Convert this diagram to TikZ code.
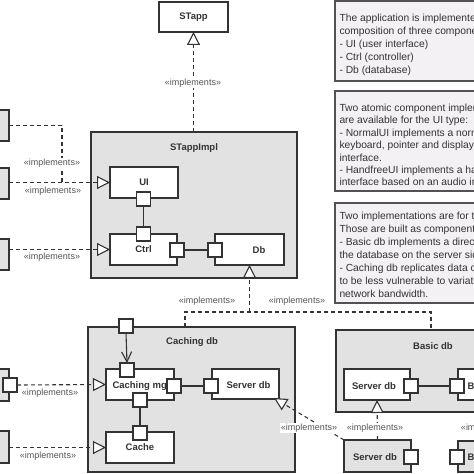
\documentclass[tikz,border=0pt]{standalone}
\usepackage{fontspec}
\setmainfont{Liberation Sans}
\usetikzlibrary{arrows.meta}
\definecolor{boxgray}{HTML}{E2E2E2}
\definecolor{linec}{HTML}{333333}
\definecolor{notefill}{HTML}{F4F1F4}
\definecolor{labc}{HTML}{555555}
\begin{document}
\begin{tikzpicture}[x=1bp,y=-1bp,
  every node/.style={inner sep=0pt, outer sep=0pt},
  box/.style={draw=linec, line width=1.1bp, rectangle, font=\fontsize{9.5bp}{11bp}\selectfont\bfseries, text=linec},
  cont/.style={box, fill=boxgray},
  comp/.style={box, fill=white},
  port/.style={draw=linec, line width=1.1bp, fill=white, minimum width=14bp, minimum height=14bp},
  ttl/.style={font=\fontsize{9.5bp}{11bp}\selectfont\bfseries, text=linec},
  impl/.style={draw=linec, line width=1.1bp, dash pattern=on 4bp off 3bp, -{Triangle[fill=white, length=13bp, width=13bp, line width=1.1bp]}},
  dep/.style={draw=linec, line width=1.1bp, dash pattern=on 4bp off 3bp},
  wire/.style={draw=linec, line width=1.1bp},
  lab/.style={font=\fontsize{9bp}{10bp}\selectfont, text=labc, fill=white, inner sep=1bp},
  note/.style={draw=linec!85, line width=1.5bp, fill=notefill},
  notetext/.style={font=\fontsize{10.3bp}{13bp}\selectfont, text=linec, align=left, anchor=north west}
]
\useasboundingbox (0,0) rectangle (474,474);
\clip (0,0) rectangle (474,474);

% notes
\node[note, minimum width=265bp, minimum height=80bp] (n1) at (467.5,41) {};
\node[notetext] (n1t) at (339.5,14.5) {The application is implemented by the\\composition of three components:\\- UI (user interface)\\- Ctrl (controller)\\- Db (database)};
\node[note, minimum width=265bp, minimum height=100bp] (n2) at (467.5,141) {};
\node[notetext, font=\fontsize{10.3bp}{12.4bp}\selectfont] (n2t) at (339.5,104) {Two atomic component implementations\\are available for the UI type:\\- NormalUI implements a normal\\keyboard, pointer and display type\\interface.\\- HandfreeUI implements a handfree\\interface based on an audio input.};
\node[note, minimum width=265bp, minimum height=100bp] (n3) at (467.5,253) {};
\node[notetext] (n3t) at (339.5,212.5) {Two implementations are for the Db type.\\Those are built as component frameworks.\\- Basic db implements a direct access to\\the database on the server side.\\- Caching db replicates data on client side\\to be less vulnerable to variations of\\network bandwidth.};

% top component
\node[comp, minimum width=69bp, minimum height=30bp] (stapp) at (193.5,17) {STapp};

% STappImpl
\node[cont, minimum width=206bp, minimum height=146bp] (impl) at (194,205) {};
\node[ttl] (implt) at (194,148) {STappImpl};
\node[comp, minimum width=68bp, minimum height=31bp] (ui) at (144,182.5) {UI};
\node[comp, minimum width=67bp, minimum height=31bp] (ctrl) at (143.5,249.5) {Ctrl};
\node[comp, minimum width=69bp, minimum height=31bp] (db) at (249.5,249.5) {};
\node[ttl] (dbt) at (259,250) {Db};

% left boxes
\node[cont, minimum width=69bp, minimum height=31bp] (la) at (-25.5,125.5) {};
\node[cont, minimum width=69bp, minimum height=31bp] (lb) at (-25.5,183.5) {};
\node[cont, minimum width=69bp, minimum height=31bp] (lc) at (-25.5,254.5) {};
\node[cont, minimum width=69bp, minimum height=32bp] (ld) at (-25.5,385) {};
\node[cont, minimum width=69bp, minimum height=32bp] (le) at (-25.5,447) {};

% Caching db
\node[cont, minimum width=207bp, minimum height=145bp] (cdb) at (191.5,399.5) {};
\node[ttl] (cdbt) at (192,342) {Caching db};
\node[comp, minimum width=68bp, minimum height=31bp] (cmgr) at (140,384.5) {};
\node[ttl, anchor=west] (cmgrt) at (112.5,386) {Caching mgr};
\node[comp, minimum width=68bp, minimum height=31bp] (cache) at (140,447.5) {Cache};
\node[comp, minimum width=67bp, minimum height=30bp] (sdb1) at (245.5,384) {};
\node[ttl] (sdb1t) at (248.5,385) {Server db};

% Basic db
\node[cont, minimum width=194bp, minimum height=82bp] (bdb) at (433,371) {};
\node[ttl] (bdbt) at (433,346) {Basic db};
\node[comp, minimum width=66bp, minimum height=31bp] (sdb2) at (377,384.5) {};
\node[ttl] (sdb2t) at (374,386) {Server db};
\node[comp, minimum width=68bp, minimum height=31bp] (bb1) at (492,384.5) {};
\node[ttl, anchor=west] (bb1t) at (467.5,386) {Backend};

% lower components
\node[cont, minimum width=67bp, minimum height=32bp] (sdb3) at (377.5,456) {};
\node[ttl] (sdb3t) at (375,457) {Server db};
\node[cont, minimum width=68bp, minimum height=31bp] (bb2) at (492,456.5) {};
\node[ttl, anchor=west] (bb2t) at (467.5,457) {Backend};

% junction coordinates
\coordinate (ja) at (62,125.5);
\coordinate (jb) at (62,182.5);
\coordinate (jl) at (185,312);
\coordinate (jm) at (249.5,312);
\coordinate (jr) at (431,312);

% connectors
\draw[impl] (stapp.south |- impl.north) -- (stapp.south);
\draw[dep] (la.east) -- (ja) -- (jb);
\draw[impl] (lb.east |- ui.west) -- (ui.west);
\draw[impl] (lc.east |- ctrl.west) -- (ctrl.west);
\draw[impl] (jm) -- (db.south);
\draw[dep] (jl |- cdb.north) -- (jl) -- (jr) -- (jr |- bdb.north);
\draw[impl] (le.east |- cache.west) -- (cache.west);
\draw[impl] (sdb3.north west) -- ([xshift=-5bp,yshift=1bp]sdb1.south east);
\draw[impl] (sdb3.north) -- (sdb2.south);
\draw[impl] (bb2.north) -- (bb1.south);

% ports
\node[port] (uip) at (143.5,199) {};
\node[port] (ctrlp1) at (143.5,234) {};
\node[port] (ctrlp2) at (177,250) {};
\node[port] (dbp) at (215,250) {};
\node[port] (cdbp) at (126,326) {};
\node[port] (cmgrp1) at (127,370) {};
\node[port] (cmgrp2) at (174,386) {};
\node[port] (cmgrp3) at (140,400) {};
\node[port] (cachep) at (140,433) {};
\node[port] (sdb1p) at (211,386) {};
\node[port] (sdb2p) at (411,386) {};
\node[port] (bb1p) at (457,386) {};
\node[port] (sdb3p) at (411,457) {};
\node[port] (bb2p) at (457,457) {};
\node[port] (ldp) at (10,385) {};

\draw[wire] (uip) -- (ctrlp1);
\draw[wire] (ctrlp2) -- (dbp);
\draw[wire] (cmgrp2) -- (sdb1p);
\draw[wire] (cmgrp3) -- (cachep);
\draw[wire] (sdb2p) -- (bb1p);
\draw[wire, -{Straight Barb[length=10bp, width=10bp]}] (cdbp.south) -- (cmgrp1.north);
\draw[impl] (ldp.east) -- (cmgr.west);

% labels
\node[lab] (l1) at (193,83) {«implements»};
\node[lab] (l2) at (52,163) {«implements»};
\node[lab] (l3) at (53,191) {«implements»};
\node[lab] (l4) at (52,257) {«implements»};
\node[lab] (l5) at (50,393) {«implements»};
\node[lab] (l6) at (48,456) {«implements»};
\node[lab] (l7) at (207,301) {«implements»};
\node[lab] (l8) at (297,301) {«implements»};
\node[lab] (l9) at (309,428) {«implements»};
\node[lab] (l10) at (375,428) {«implements»};
\node[lab] (l11) at (489,428) {«implements»};
\end{tikzpicture}
\end{document}
